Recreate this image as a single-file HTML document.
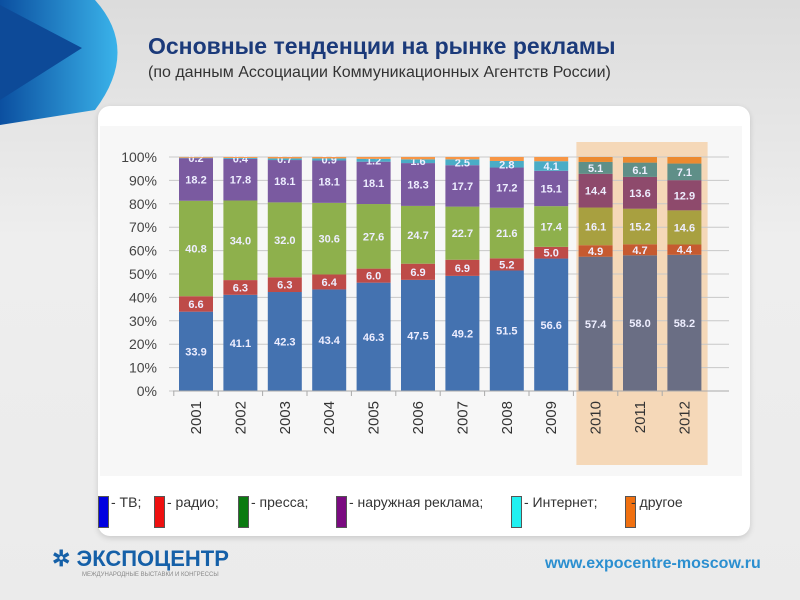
<!DOCTYPE html>
<html><head><meta charset="utf-8"><style>
body{margin:0;width:800px;height:600px;overflow:hidden;font-family:"Liberation Sans",sans-serif;background:linear-gradient(#dcdcdc,#eeeeee 40%,#ebebeb);position:relative}
.t{position:absolute;left:148px;top:33px;font-size:23px;font-weight:bold;color:#1b3a7a}
.s{position:absolute;left:148px;top:64px;font-size:16px;color:#333}
.card{position:absolute;left:98px;top:106px;width:652px;height:430px;background:#fff;border-radius:12px;box-shadow:0 2px 6px rgba(0,0,0,.15)}
.lg{position:absolute;top:494px;font-size:14px;color:#333}
.sw{position:absolute;top:496px;width:9px;height:30px;border:1px solid #555}
</style></head><body>
<svg style="position:absolute;left:0;top:0" width="140" height="130">
<defs><linearGradient id="g" x1="0" x2="1"><stop offset="0" stop-color="#0b4fa0"/><stop offset="1" stop-color="#3ab3ea"/></linearGradient></defs>
<path d="M0,0 L95,0 Q140,50 95,110 L0,125 Z" fill="url(#g)"/><path d="M0,5 L82,48 L0,100Z" fill="#0d4a98"/></svg>
<div class="t">Основные тенденции на рынке рекламы</div>
<div class="s">(по данным Ассоциации Коммуникационных Агентств России)</div>
<div class="card"></div>
<svg id="c" style="position:absolute;left:0;top:0" width="800" height="600"></svg>
<div class="sw" style="left:98px;background:#0000e0"></div><div class="lg" style="left:111px">- ТВ;</div>
<div class="sw" style="left:154px;background:#ee1010"></div><div class="lg" style="left:167px">- радио;</div>
<div class="sw" style="left:238px;background:#0a7a10"></div><div class="lg" style="left:251px">- пресса;</div>
<div class="sw" style="left:336px;background:#7a0a80"></div><div class="lg" style="left:349px">- наружная реклама;</div>
<div class="sw" style="left:511px;background:#20f0f0"></div><div class="lg" style="left:524px">- Интернет;</div>
<div class="sw" style="left:625px;background:#f07010"></div><div class="lg" style="left:631px">- другое</div>
<div style="position:absolute;left:52px;top:546px;font-size:22px;font-weight:bold;color:#1560a8">✲ ЭКСПОЦЕНТР</div>
<div style="position:absolute;left:82px;top:572px;font-size:6px;color:#888">МЕЖДУНАРОДНЫЕ ВЫСТАВКИ И КОНГРЕССЫ</div>
<div style="position:absolute;left:545px;top:555px;font-size:16px;font-weight:bold;color:#2b8fd0">www.expocentre-moscow.ru</div>
<script>
const years=["2001","2002","2003","2004","2005","2006","2007","2008","2009","2010","2011","2012"];
const tv=[33.9,41.1,42.3,43.4,46.3,47.5,49.2,51.5,56.6,57.4,58.0,58.2];
const radio=[6.6,6.3,6.3,6.4,6.0,6.9,6.9,5.2,5.0,4.9,4.7,4.4];
const press=[40.8,34.0,32.0,30.6,27.6,24.7,22.7,21.6,17.4,16.1,15.2,14.6];
const outdoor=[18.2,17.8,18.1,18.1,18.1,18.3,17.7,17.2,15.1,14.4,13.6,12.9];
const internet=[0.2,0.4,0.7,0.9,1.2,1.6,2.5,2.8,4.1,5.1,6.1,7.1];
const other=[0.3,0.4,0.6,0.6,0.8,1.0,1.0,1.7,1.8,2.1,2.4,2.8];
const yTicks=[0,10,20,30,40,50,60,70,80,90,100];
const forecastFrom=9;
const NS="http://www.w3.org/2000/svg",svg=document.getElementById('c');
const y0=391,y1=157,xL=173,step=44.4,bw=34;
const y=v=>y0-(y0-y1)*v/100, xc=i=>196+i*step;
function mk(t,a){const e=document.createElementNS(NS,t);for(const k in a)e.setAttribute(k,a[k]);svg.appendChild(e);return e;}
let bg=mk('rect',{x:100,y:126,width:642,height:350,fill:'#f7f7f7'});


let sh=mk('rect',{x:xc(forecastFrom)-step/2+3,y:142,width:step*3-2,height:323,fill:'#f5d8b8'});


yTicks.forEach(t=>{let l=mk('line',{x1:xL-4,x2:729,y1:y(t),y2:y(t),stroke:'#c8c8c8'});


let tx=mk('text',{x:157,y:y(t)+5,'text-anchor':'end','font-size':14,fill:'#444','font-family':'Liberation Sans'});tx.textContent=t+'%';

});
const series=[[tv,'tv','#4472b0','#6a6e84'],[radio,'radio','#be4b48','#c65a30'],[press,'press','#8eb04c','#a8a040'],[outdoor,'outdoor','#7a5aa0','#8e4a6c'],[internet,'internet','#4aacc6','#5f8f88'],[other,'other','#f79646','#ec8a30']];
years.forEach((yr,i)=>{let acc=0;series.forEach(([arr,n,c,fc],si)=>{const v=arr[i];const top=y(acc+v),bot=y(acc);
let r=mk('rect',{x:xc(i)-bw/2,y:top,width:bw,height:bot-top,fill:i>=forecastFrom?fc:c});


if(si<5){let t=mk('text',{x:xc(i),y:(top+bot)/2+4,'text-anchor':'middle','font-size':11,'font-weight':'bold',fill:'#eef','font-family':'Liberation Sans'});t.textContent=v.toFixed(1);

}
acc+=v;});
let tk=mk('line',{x1:xc(i)-step/2,x2:xc(i)-step/2,y1:y0,y2:y0+5,stroke:'#aaa'});


let t=mk('text',{x:0,y:0,'font-size':15,fill:'#333','text-anchor':'end','font-family':'Liberation Sans',transform:`translate(${xc(i)+5},${y0+10}) rotate(-90)`});t.textContent=yr;

});
let ax=mk('line',{x1:xL,x2:729,y1:y0,y2:y0,stroke:'#aaa'});


</script>
</body></html>
